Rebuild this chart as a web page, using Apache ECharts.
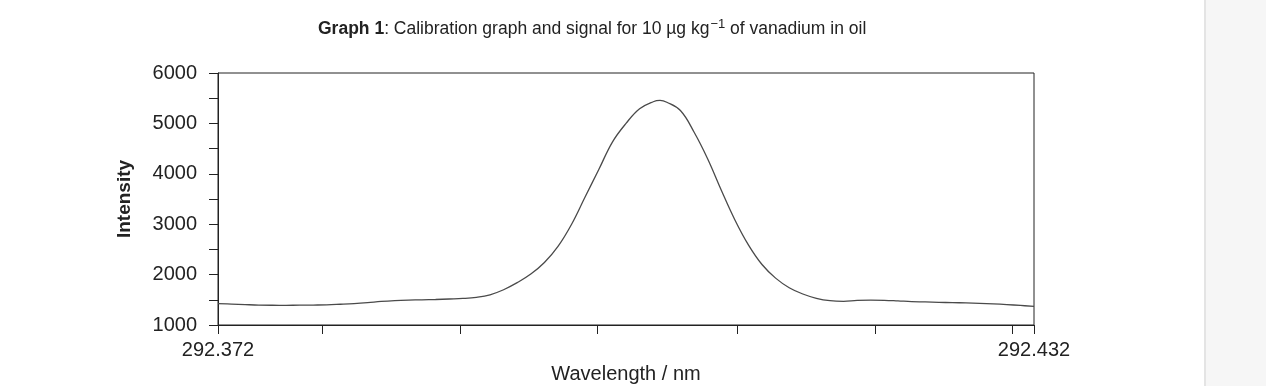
<!DOCTYPE html>
<html>
<head>
<meta charset="utf-8">
<script src="https://cdn.jsdelivr.net/npm/echarts@6/dist/echarts.min.js"></script>
<style>
  html, body { margin: 0; padding: 0; background: #ffffff; }
  #chart { width: 1266px; height: 386px; }
</style>
</head>
<body>
<div id="chart"></div>
<script>
// ---- data ----
const wavelengths = [
  292.372, 292.373, 292.374, 292.375, 292.376, 292.377, 292.378, 292.379, 292.380, 292.381,
  292.382, 292.383, 292.384, 292.385, 292.386, 292.387, 292.388, 292.389, 292.390, 292.391,
  292.392, 292.393, 292.394, 292.395, 292.396, 292.397, 292.398, 292.399, 292.400, 292.401,
  292.402, 292.403, 292.404, 292.4045, 292.405, 292.406, 292.407, 292.408, 292.409, 292.410,
  292.411, 292.412, 292.413, 292.414, 292.415, 292.416, 292.417, 292.418, 292.419, 292.420,
  292.421, 292.422, 292.423, 292.424, 292.425, 292.426, 292.427, 292.428, 292.429, 292.430,
  292.431, 292.432
];
const intensity = [
  1424, 1415, 1405, 1396, 1392, 1391, 1393, 1396, 1400, 1412,
  1426, 1445, 1468, 1484, 1494, 1500, 1506, 1516, 1527, 1550,
  1600, 1700, 1840, 2010, 2240, 2560, 3000, 3545, 4085, 4630,
  5000, 5290, 5430, 5455, 5420, 5255, 4830, 4300, 3680, 3090,
  2590, 2200, 1930, 1740, 1615, 1530, 1482, 1470, 1488, 1492,
  1490, 1478, 1464, 1458, 1450, 1444, 1438, 1431, 1420, 1405,
  1388, 1370
];
const xTickValues = [292.372, 292.3797, 292.3898, 292.3999, 292.4102, 292.4203, 292.4304, 292.432];
const xLabelValues = [292.372, 292.432];
const yLabelValues = [1000, 2000, 3000, 4000, 5000, 6000];

const FONT = "'Liberation Sans', Arial, sans-serif";
const points = wavelengths.map((w, i) => [w, intensity[i]]);

const chart = echarts.init(document.getElementById('chart'), null, { renderer: 'canvas' });
chart.setOption({
  animation: false,
  backgroundColor: '#ffffff',
  title: {
    left: 318,
    top: 18,
    padding: 0,
    text: '{b|Graph 1}{r|: Calibration graph and signal for 10 µg kg}{s|−1}{r| of vanadium in oil}',
    textStyle: {
      fontWeight: 'normal',
      rich: {
        b: { fontFamily: FONT, fontSize: 17.5, fontWeight: 'bold', color: '#222', lineHeight: 22 },
        r: { fontFamily: FONT, fontSize: 17.5, fontWeight: 'normal', color: '#222', lineHeight: 22 },
        s: { fontFamily: FONT, fontSize: 13, fontWeight: 'normal', color: '#222', verticalAlign: 'top', lineHeight: 12, padding: [0, 0, 8, 1] }
      }
    }
  },
  grid: {
    left: 218, right: 232, top: 73, bottom: 61,
    outerBoundsMode: 'none',
    containLabel: false,
    show: true, borderColor: '#222', borderWidth: 1, backgroundColor: 'transparent'
  },
  xAxis: {
    type: 'value',
    min: 292.372, max: 292.432,
    name: 'Wavelength / nm',
    nameLocation: 'middle',
    nameGap: 33,
    nameTextStyle: { fontFamily: FONT, fontSize: 20, color: '#222' },
    axisLine: { show: true, lineStyle: { color: '#222', width: 1 } },
    axisTick: { show: true, length: 9, customValues: xTickValues, lineStyle: { color: '#222' } },
    axisLabel: {
      show: true, customValues: xLabelValues, margin: 15,
      fontFamily: FONT, fontSize: 20, color: '#222',
      formatter: v => v.toFixed(3),
      showMinLabel: true, showMaxLabel: true
    },
    splitLine: { show: false }
  },
  yAxis: {
    type: 'value',
    min: 1000, max: 6000, interval: 500,
    name: 'Intensity',
    nameLocation: 'middle',
    nameGap: 84,
    nameRotate: 90,
    nameTextStyle: { fontFamily: FONT, fontSize: 19, fontWeight: 'bold', color: '#222' },
    axisLine: { show: true, lineStyle: { color: '#222', width: 1 } },
    axisTick: { show: true, length: 9, lineStyle: { color: '#222' } },
    axisLabel: {
      margin: 21, fontFamily: FONT, fontSize: 20, color: '#222',
      formatter: v => (yLabelValues.indexOf(v) >= 0 ? String(v) : '')
    },
    splitLine: { show: false }
  },
  series: [{
    type: 'line',
    data: points,
    smooth: 0.4,
    showSymbol: false,
    symbol: 'none',
    lineStyle: { color: '#4a4a4a', width: 1.3 }
  }],
  graphic: [
    { type: 'rect', silent: true, shape: { x: 1206, y: 0, width: 60, height: 386 }, style: { fill: '#f6f6f6' } },
    { type: 'rect', silent: true, shape: { x: 1204, y: 0, width: 2, height: 386 }, style: { fill: '#e4e4e4' } }
  ]
});
</script>
</body>
</html>
